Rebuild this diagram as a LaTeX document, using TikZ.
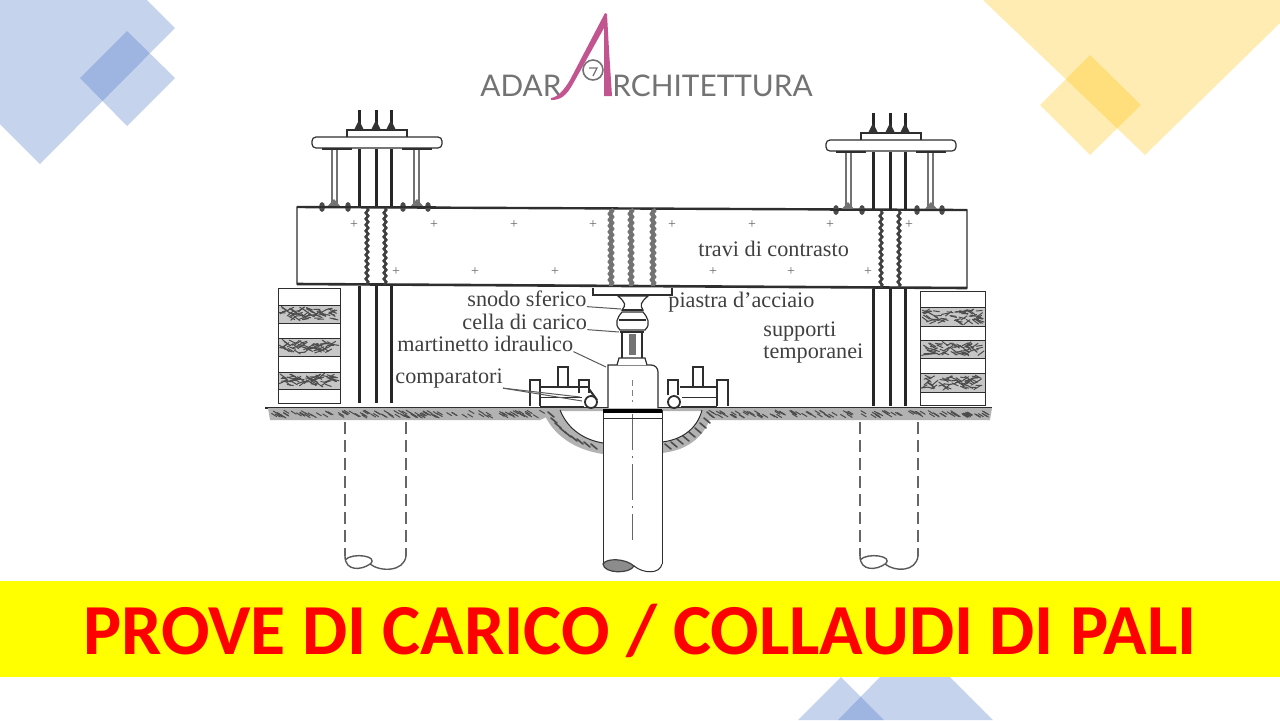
\documentclass[tikz,border=0pt]{standalone}
\usepackage{fontspec}
\setmainfont{Liberation Serif}
\newfontfamily\titlefont{Carlito}
\newfontfamily\logofont{Lato}
\usepackage{xcolor}
\usetikzlibrary{positioning, patterns, decorations.pathmorphing}
\definecolor{inkline}{HTML}{2E2E2E}
\definecolor{bluedeco}{HTML}{4472C4}
\definecolor{yellowdeco}{HTML}{FFC000}
\definecolor{bandyellow}{HTML}{FFFF00}
\definecolor{titlered}{HTML}{FF0000}
\definecolor{logopink}{HTML}{C2548F}
\tikzset{
    bluepatch/.style={fill=bluedeco, fill opacity=0.31, draw=none},
    yellowpatch/.style={fill=yellowdeco, fill opacity=0.30, draw=none},
    steel/.style={draw=inkline, line width=0.6pt, fill=white},
    thin line/.style={draw=inkline, line width=0.5pt},
    strut/.style={draw=black!55, line width=0.9pt},
    bolt/.style={draw=black!85, line width=1.5pt},
    thread/.style={draw=black!75, line width=1.3pt, decorate, decoration={snake, amplitude=0.6pt, segment length=3pt}},
    threadgray/.style={draw=black!55, line width=2.2pt, decorate, decoration={snake, amplitude=0.5pt, segment length=3pt}},
    dug/.style={fill=black!30, draw=none},
    grain/.style={draw=black!70, line width=0.5pt, line cap=round},
    woodlayer/.style={fill=black!22, draw=inkline, line width=0.5pt},
    note/.style={font=\fontsize{11.1}{12}\selectfont, text=black!75, inner sep=0pt, anchor=base west},
    pointer/.style={draw=black!65, line width=0.5pt},
    pilehid/.style={draw=black!60, line width=0.8pt, dash pattern=on 6pt off 3pt}
}
\begin{document}
\begin{tikzpicture}[x=0.5pt, y=-0.5pt]
    \useasboundingbox (0,0) rectangle (1280,720);
    \pgfmathsetseed{41}
    % corners
    \fill[bluepatch] (0,0)--(147,0)--(175,28)--(40,164)--(0,124)--cycle;
    \fill[bluepatch] (127,31)--(175,78)--(127,126)--(80,78)--cycle;
    \fill[yellowpatch] (983,0)--(1280,0)--(1280,23)--(1145,155)--cycle;
    \fill[yellowpatch] (1090,55)--(1141,105)--(1090,155)--(1040,105)--cycle;
    \fill[bluepatch] (798,720)--(841,677)--(884,720)--cycle;
    \fill[bluepatch] (838,720)--(880,677)--(950,677)--(993,720)--cycle;
    % logo
    \node[inner sep=0pt, anchor=base west, text=black!55, font=\logofont\fontsize{14.9}{15}\selectfont] (logoleft) at (480,96) {ADAR};
    \node[inner sep=0pt, anchor=base west, text=black!55, font=\logofont\fontsize{14.9}{15}\selectfont] (logoright) at (612,96) {RCHITETTURA};
    \draw[black!55, line width=0.8pt] (593,70) circle (10);
    \draw[black!55, line width=0.6pt] (589,68)--(597,68)--(593,76);
    \fill[logopink] (605,13)--(607,14)--(609,50)--(612,96)--(604,96)--(604,28)--(574,82) .. controls (566,97) and (560,100) .. (551,100)--(551,98) .. controls (558,97) and (564,90) .. (570,80)--cycle;
    % beam
    \draw[steel] (297,207)--(967,210)--(967,288)--(297,284)--cycle;
    \draw[inkline, line width=1.2pt] (297,207)--(967,210);
    \draw[inkline, line width=1.3pt] (297,284)--(967,288);
    \foreach \x in {354,434,514,593,672,752,830,909} \node[font=\scriptsize, text=black!60, inner sep=0pt] (top\x) at (\x,225) {+};
    \foreach \x in {396,475,555,713,791,868} \node[font=\scriptsize, text=black!60, inner sep=0pt] (bot\x) at (\x,272) {+};
    \foreach \x in {611,631,653} \draw[threadgray] (\x,209)--(\x,286);
    % anchors
    \foreach \ax/\ay in {0/0,514/3} {
        \foreach \x in {332,337,414,419} \draw[strut] (\ax+\x,\ay+149)--(\ax+\x,\ay+205);
        \fill[black!55] (\ax+327,\ay+207)--(\ax+334,\ay+199)--(\ax+341,\ay+207)--cycle;
        \fill[black!55] (\ax+410,\ay+207)--(\ax+417,\ay+199)--(\ax+424,\ay+207)--cycle;
        \draw[steel] (\ax+347,\ay+137)--(\ax+347,\ay+130)--(\ax+407,\ay+130)--(\ax+407,\ay+137);
        \draw[steel, rounded corners=2pt] (\ax+312,\ay+137) rectangle (\ax+442,\ay+148);
        \draw[inkline, line width=1pt] (\ax+322,\ay+149)--(\ax+352,\ay+149) (\ax+402,\ay+149)--(\ax+432,\ay+149);
        \foreach \x in {359,376,391} {
            \draw[bolt] (\ax+\x,\ay+110)--(\ax+\x,\ay+128);
            \fill[black!80] (\ax+\x-5,\ay+130)--(\ax+\x,\ay+120)--(\ax+\x+5,\ay+130)--cycle;
            \draw[bolt] (\ax+\x,\ay+149)--(\ax+\x,\ay+207);
            \draw[bolt] (\ax+\x,\ay+286)--(\ax+\x,\ay+403);
        }
        \foreach \x in {322,348,403,428} \fill[black!70] (\ax+\x,\ay+207) ellipse (3 and 5);
        \draw[inkline, line width=1pt] (\ax+316,\ay+207)--(\ax+436,\ay+207);
        \foreach \x in {367,385} \draw[thread] (\ax+\x,\ay+208)--(\ax+\x,\ay+285);
    }
    % supports
    \draw[thin line] (278,288) rectangle (340,403);
    \draw[thin line] (920,291) rectangle (985,405);
    \foreach \xa/\xb/\ya/\yb in {278/340/305/323,278/340/338/356,278/340/372/389,920/985/307/326,920/985/340/358,920/985/373/392} {
        \draw[woodlayer] (\xa,\ya) rectangle (\xb,\yb);
        \foreach \i in {1,...,60} {
            \pgfmathsetmacro{\gx}{\xa+1+rnd*(\xb-\xa-8)}
            \pgfmathsetmacro{\gy}{\ya+1+rnd*(\yb-\ya-7)}
            \pgfmathsetmacro{\gs}{2*rnd-1}
            \draw[grain] (\gx,\gy+2.5-2.5*\gs) -- ++(6,5*\gs);
        }
    }
    % ground
    \draw[inkline, line width=1pt] (265,408)--(992,408);
    \fill[dug] (268,408)--(992,408)--(990,420)--(708,420)--(705,411)--(560,411)--(540,420)--(270,420)--cycle;
    \fill[dug] (543,411) .. controls (552,435) and (575,450) .. (603,454)--(603,443) .. controls (585,440) and (568,430) .. (560,410)--cycle;
    \fill[dug] (713,411) .. controls (706,435) and (690,450) .. (662,453)--(662,442) .. controls (680,440) and (697,430) .. (702,410)--cycle;
    \foreach \xa/\xb in {268/540,708/985} {
        \pgfmathsetmacro{\nst}{int((\xb-\xa)/2.5)}
        \foreach \i in {1,...,\nst} {
            \pgfmathsetmacro{\gx}{\xa+rnd*(\xb-\xa)}
            \pgfmathsetmacro{\gy}{410+rnd*5}
            \draw[grain] (\gx,\gy) -- ++(5,3);
        }
    }
    \foreach \cx/\cy in {551/414,554/420,558/425,563/430,568/434,574/438,580/441,587/444,594/446,710/414,707/420,703/425,698/430,692/434,686/438,680/441,674/444,668/446}
        \draw[grain, line width=0.8pt] (\cx-3,\cy-2) -- (\cx+3,\cy+3);
    \draw[thin line] (560,410) .. controls (568,430) and (585,440) .. (603,443);
    \draw[thin line] (702,410) .. controls (697,430) and (680,440) .. (662,442);
    % piles
    \foreach \x in {345,406,860,918} \draw[pilehid] (\x,422)--(\x,556);
    \draw[black!65, line width=0.7pt] (345,556) .. controls (345,572) and (362,570) .. (370,564) .. controls (380,556) and (352,552) .. (345,560);
    \draw[black!65, line width=0.7pt] (370,564) .. controls (380,572) and (404,572) .. (406,556);
    \draw[black!65, line width=0.7pt] (860,556) .. controls (860,572) and (877,570) .. (885,564) .. controls (895,556) and (867,552) .. (860,560);
    \draw[black!65, line width=0.7pt] (885,564) .. controls (895,572) and (916,572) .. (918,556);
    \draw[thin line] (603,410)--(603,564);
    \draw[thin line] (662,410)--(662,564);
    \draw[draw=black!75, fill=black!45, line width=0.6pt] (603,564) .. controls (604,574) and (630,574) .. (634,566) .. controls (625,558) and (606,558) .. (603,564)--cycle;
    \draw[thin line] (634,566) .. controls (644,574) and (660,574) .. (662,564);
    \draw[black!60, line width=0.5pt, dash pattern=on 18pt off 3pt on 1pt off 3pt] (632,414)--(632,540);
    % jack
    \draw[steel] (608,408)--(608,365)--(651,365) .. controls (655,365) and (658,368) .. (658,372)--(658,408);
    \draw[black!50, line width=0.5pt, densely dashed] (632,380)--(632,402);
    \draw[steel] (617,365)--(619,358)--(645,358)--(647,365);
    \draw[steel] (622,358)--(622,332) (642,358)--(642,332);
    \draw[steel] (620,332)--(644,332);
    \fill[black!55] (629,334) rectangle (636,355);
    \draw[steel] (620,330) .. controls (614,324) and (617,318) .. (622,312) -- (643,312) .. controls (648,318) and (651,324) .. (645,330)--cycle;
    \draw[inkline, line width=1pt] (619,320)--(646,320);
    \draw[steel] (622,310) .. controls (626,305) and (626,303) .. (618,296)--(648,296) .. controls (640,303) and (640,305) .. (643,310)--cycle;
    \draw[inkline, line width=1.2pt] (622,310)--(643,310);
    \draw[steel] (593,288)--(593,295)--(672,295)--(672,288);
    \draw[black, line width=2pt] (603,411)--(662,411);
    \draw[thin line] (603,418)--(662,418);
    % comparators
    \draw[steel] (530,406)--(530,380)--(540,380)--(540,406);
    \draw[steel] (579,393)--(579,380)--(589,380)--(589,393);
    \draw[steel] (558,387)--(558,367)--(568,367)--(568,387);
    \draw[inkline, line width=1pt] (540,387)--(588,387);
    \draw[thin line] (540,397)--(582,397);
    \draw[thin line] (540,406)--(584,406);
    \draw[inkline, line width=1pt] (589,389) -- (597,400);
    \draw[steel, line width=0.9pt] (591,402) circle (6);
    \draw[steel] (717,406)--(717,380)--(728,380)--(728,406);
    \draw[steel] (693,387)--(693,367)--(703,367)--(703,387);
    \draw[steel] (668,395)--(668,380)--(678,380)--(678,395);
    \draw[inkline, line width=1pt] (680,387)--(717,387);
    \draw[thin line] (682,397)--(717,397);
    \draw[thin line] (681,406)--(717,406);
    \draw[steel, line width=0.9pt] (674,402) circle (6);
    % labels
    \node[note] (snodo) at (467,306) {snodo sferico};
    \node[note] (cella) at (462,329) {cella di carico};
    \node[note] (martinetto) at (397,351) {martinetto idraulico};
    \node[note] (comparatori) at (395,383) {comparatori};
    \node[note] (piastra) at (668,307) {piastra d'acciaio};
    \node[note] (travi) at (698,256) {travi di contrasto};
    \node[note] (supporti) at (763,336) {supporti};
    \node[note] (temporanei) at (763,358) {temporanei};
    \coordinate (snodoend) at (621,309);
    \coordinate (cellaend) at (619,332);
    \coordinate (martinettoend) at (606,367);
    \coordinate (compend) at (580,397);
    \coordinate (compendb) at (582,401);
    \draw[pointer] (snodo.south east) -- (snodoend);
    \draw[pointer] (cella.south east) -- (cellaend);
    \draw[pointer] (martinetto.south east) -- (martinettoend);
    \draw[pointer] (comparatori.south east) -- (compend);
    \draw[pointer] (comparatori.south east) -- (compendb);
    % title band
    \fill[bandyellow] (0,581) rectangle (1280,677);
    \node[font=\titlefont\bfseries\fontsize{35.9}{38}\selectfont, text=titlered, inner sep=0pt] (title) at (640,631) {PROVE DI CARICO / COLLAUDI DI PALI};
\end{tikzpicture}
\end{document}
